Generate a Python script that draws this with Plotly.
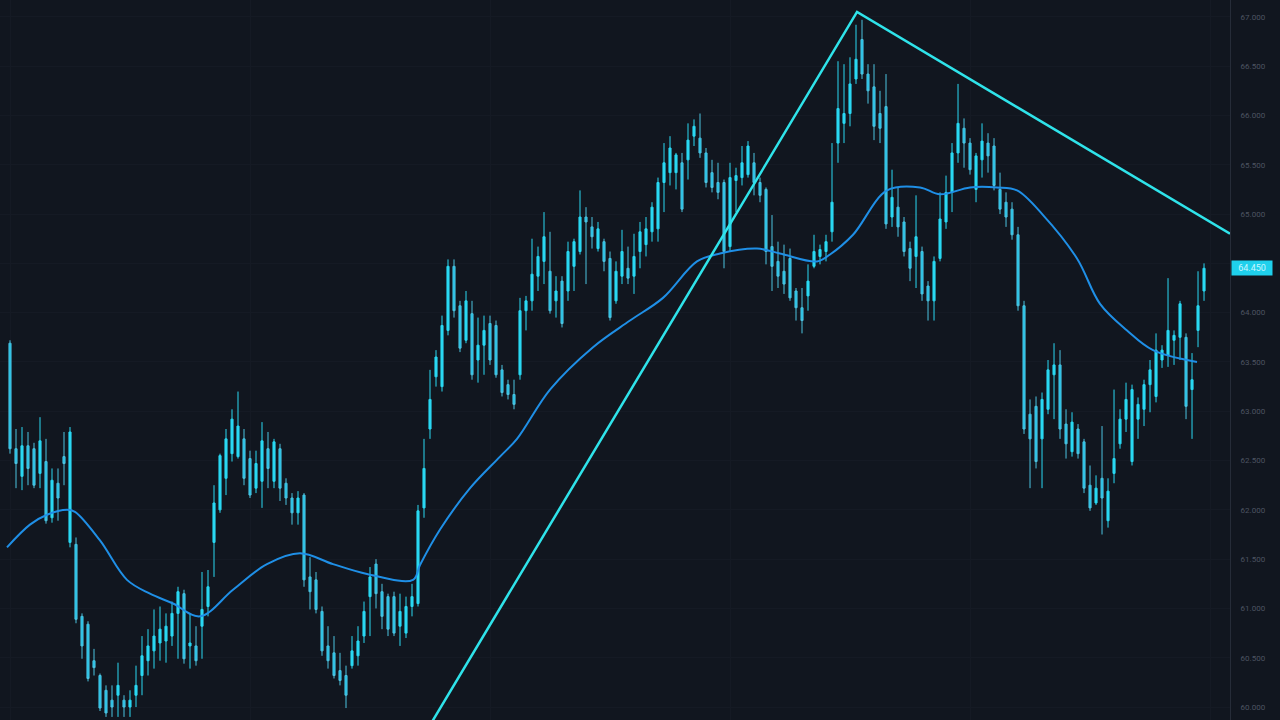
import plotly.graph_objects as go

# OHLC data (candle index 0..199)
opens = [63.69,62.62,62.34,62.65,62.62,62.37,62.49,61.92,62.27,62.54,
         61.67,61.65,60.92,60.84,60.47,60.32,60.17,60.07,60.12,60.07,
         60.00,60.12,60.32,60.47,60.57,60.65,60.67,60.72,60.95,61.15,
         60.62,60.62,60.82,61.02,61.67,62.00,62.32,62.57,62.54,62.72,
         62.52,62.22,62.29,62.62,62.29,62.62,62.27,62.12,61.97,62.15,
         61.32,61.29,60.97,60.62,60.55,60.37,60.32,60.42,60.52,60.72,
         61.12,61.45,61.17,61.12,61.12,60.82,60.75,61.02,61.05,62.02,
         62.82,63.35,63.25,63.82,64.47,64.07,63.72,63.99,63.52,63.67,
         63.89,63.87,63.42,63.27,63.17,63.37,64.02,64.12,64.37,64.52,
         64.42,64.12,64.32,64.22,64.47,64.62,64.97,64.87,64.65,64.72,
         64.55,64.12,64.37,64.45,64.37,64.62,64.69,64.82,64.85,65.32,
         65.42,65.42,65.52,65.55,65.79,65.77,65.62,65.42,65.32,65.32,
         64.67,65.34,65.37,65.40,65.52,65.32,65.25,64.67,64.52,64.42,
         64.55,64.22,64.05,64.17,64.47,64.57,64.62,64.82,65.72,65.92,
         66.02,66.37,66.77,66.42,66.29,66.02,66.09,64.97,65.07,64.92,
         64.65,64.57,64.62,64.27,64.12,64.55,64.92,65.22,65.62,65.87,
         65.72,65.25,65.55,65.72,65.69,65.25,65.12,65.05,64.79,64.07,
         62.97,63.05,62.72,63.02,63.37,63.47,62.87,62.59,62.82,62.69,
         62.25,62.07,62.32,61.89,62.37,62.67,62.92,62.49,62.92,63.02,
         63.27,63.15,63.52,63.57,63.72,63.75,63.75,63.22,63.82,64.22]
closes = [62.62,62.47,62.65,62.42,62.25,62.70,61.89,62.30,62.12,62.47,
          62.79,60.89,60.62,60.29,60.40,59.99,59.94,60.00,60.22,60.00,
          60.07,60.22,60.52,60.62,60.72,60.79,60.82,60.95,61.17,60.49,
          60.65,60.47,60.99,61.22,62.07,62.55,62.72,62.92,62.85,62.32,
          62.15,62.47,62.70,62.42,62.69,62.22,62.12,61.97,62.12,61.29,
          61.17,60.99,60.57,60.47,60.32,60.27,60.12,60.57,60.67,60.97,
          61.32,61.15,60.92,60.79,60.75,60.97,61.02,61.12,61.99,62.42,
          63.12,63.55,63.87,64.47,64.02,63.64,64.12,63.37,63.67,63.82,
          63.52,63.37,63.19,63.17,63.07,64.02,64.12,64.39,64.57,64.77,
          64.02,64.22,63.89,64.62,64.72,64.97,64.92,64.77,64.85,64.52,
          63.95,64.42,64.62,64.35,64.57,64.82,64.85,65.07,65.32,65.52,
          65.67,65.60,65.05,65.75,65.89,65.62,65.32,65.27,65.22,64.62,
          65.37,65.39,65.52,65.69,65.32,65.19,64.62,64.47,64.37,64.29,
          64.15,64.05,63.92,64.32,64.62,64.64,64.72,65.12,66.07,66.02,
          66.32,66.57,66.42,66.25,65.89,65.87,64.90,65.17,64.87,64.62,
          64.45,64.77,64.19,64.12,64.52,64.95,65.22,65.62,65.92,65.72,
          65.45,65.59,65.74,65.59,65.29,65.05,64.97,64.79,64.07,62.82,
          62.72,62.49,63.12,63.42,63.47,62.82,62.67,62.89,62.57,62.22,
          62.02,62.22,62.12,62.19,62.52,62.92,63.12,63.22,63.07,63.27,
          63.42,63.62,63.62,63.82,63.77,64.09,63.05,63.32,64.07,64.45]
highs = [63.72,62.82,62.84,62.79,62.68,62.94,62.72,62.42,62.42,62.79,
         62.84,61.72,60.95,60.87,60.59,60.34,60.22,60.22,60.45,60.12,
         60.17,60.42,60.72,60.79,60.99,61.02,60.95,61.07,61.22,61.19,
         60.95,60.82,61.37,61.39,62.25,62.57,62.82,63.02,63.20,62.82,
         62.60,62.60,62.89,62.79,62.72,62.67,62.32,62.17,62.19,62.17,
         61.52,61.37,61.02,60.82,60.72,60.55,60.42,60.72,60.82,61.07,
         61.42,61.50,61.25,61.15,61.17,61.15,61.12,61.25,62.05,62.72,
         63.42,63.62,63.97,64.54,64.54,64.12,64.22,64.12,63.95,63.97,
         63.97,63.92,63.47,63.32,63.32,64.15,64.17,64.75,64.67,65.02,
         64.82,64.37,64.37,64.72,64.75,65.24,65.07,64.97,64.92,64.75,
         64.62,64.52,64.84,64.67,64.80,64.92,64.97,65.12,65.37,65.72,
         65.79,65.62,65.62,65.92,65.96,66.02,65.67,65.55,65.52,65.35,
         65.52,65.47,65.69,65.74,65.62,65.37,65.27,64.99,64.72,64.69,
         64.65,64.25,64.25,64.49,64.79,64.69,64.79,65.72,66.55,66.52,
         66.59,66.92,66.97,66.52,66.52,66.25,66.42,65.45,65.27,64.97,
         64.72,65.19,64.67,64.32,64.57,65.22,65.39,65.72,66.32,65.97,
         65.77,65.62,65.92,65.82,65.77,65.42,65.22,65.12,64.87,64.12,
         63.12,63.15,63.19,63.52,63.69,63.62,63.02,62.99,62.87,62.72,
         62.45,62.35,62.85,62.32,63.22,63.02,63.29,63.27,63.14,63.32,
         63.52,63.79,63.67,64.35,63.82,64.12,63.79,63.59,64.42,64.50]
lows = [62.57,62.22,62.20,62.25,62.22,62.22,61.86,61.87,61.89,62.25,
        61.62,60.85,60.49,60.26,60.32,59.96,59.90,59.90,59.90,59.90,
        59.90,60.00,60.12,60.32,60.39,60.47,60.45,60.62,60.49,60.44,
        60.39,60.42,60.49,60.92,61.32,61.97,62.15,62.49,62.52,62.25,
        62.12,62.17,62.02,62.22,62.22,62.09,62.05,61.85,61.85,61.22,
        60.99,60.95,60.52,60.39,60.29,60.22,59.99,60.39,60.42,60.65,
        60.72,61.00,60.79,60.72,60.72,60.62,60.70,60.92,61.02,61.92,
        62.72,63.25,63.20,63.77,63.95,63.60,63.69,63.32,63.29,63.37,
        63.47,63.34,63.15,63.12,63.02,63.32,63.82,64.02,64.22,64.29,
        63.99,63.95,63.85,64.12,64.22,64.59,64.29,64.65,64.62,64.42,
        63.92,64.09,64.29,64.29,64.19,64.45,64.57,64.72,64.72,65.02,
        65.29,65.25,65.02,65.35,65.69,65.57,65.27,65.22,65.15,64.45,
        64.62,65.02,65.29,65.37,65.19,65.12,64.49,64.22,64.25,64.19,
        64.12,63.92,63.79,64.02,64.45,64.49,64.52,64.72,65.52,65.72,
        65.89,66.32,66.37,66.12,65.75,65.72,64.85,64.87,64.77,64.57,
        64.32,64.25,64.12,63.92,63.92,64.52,64.85,65.02,65.52,65.47,
        65.40,65.12,65.37,65.42,65.24,65.00,64.87,64.74,64.02,62.77,
        62.22,62.42,62.22,62.97,62.92,62.72,62.52,62.54,62.52,62.17,
        61.99,62.05,61.75,61.82,62.27,62.62,62.79,62.45,62.72,62.85,
        62.99,63.09,63.44,63.45,63.47,63.52,62.92,62.72,63.65,64.12]
idx = list(range(len(opens)))

# Moving-average line (candle index, price)
ma_x = [-0.5,3.33,6.17,9.5,10.83,15,19.5,23.33,27.17,31.67,37.17,42.83,48.33,53.83,
        59.5,67.17,68.33,71.67,76.67,81.67,84.5,90,97.17,103.33,108.83,114.5,118.33,
        124.5,128.33,134.5,136.67,140.5,146.17,151.67,155,160,164.5,167.83,172.17,
        177.83,181.67,186.17,190.5,197.83]
ma_y = [61.62,61.85,61.95,62.00,61.98,61.69,61.29,61.15,61.05,60.92,61.19,61.45,61.56,61.45,
        61.35,61.29,61.44,61.80,62.22,62.54,62.72,63.22,63.65,63.92,64.15,64.52,64.60,
        64.65,64.60,64.52,64.59,64.79,65.24,65.27,65.20,65.27,65.27,65.24,64.99,
        64.55,64.09,63.82,63.62,63.50]

# Zig-zag trend line
trend_x = [70.33, 141.17, 203.33]
trend_y = [59.85, 67.05, 64.80]

# Price axis ticks
tick_vals = [60.0 + 0.5 * k for k in range(15)]
tick_text = [f"{v:.3f}" for v in tick_vals]
last_price = closes[-1]

BG = "#11161f"
fig = go.Figure()
fig.add_trace(go.Candlestick(
    x=idx, open=opens, high=highs, low=lows, close=closes,
    increasing=dict(line=dict(color="#2ad8f2", width=1), fillcolor="#2ad8f2"),
    decreasing=dict(line=dict(color="#4cc3e0", width=1), fillcolor="#1fc3ea"),
    whiskerwidth=0, showlegend=False, hoverinfo="skip"))
fig.add_trace(go.Scatter(x=ma_x, y=ma_y, mode="lines",
                         line=dict(color="#1f8fe6", width=2, shape="spline", smoothing=1.0),
                         showlegend=False, hoverinfo="skip"))
fig.add_trace(go.Scatter(x=trend_x, y=trend_y, mode="lines",
                         line=dict(color="#2fe3ea", width=2.5),
                         showlegend=False, hoverinfo="skip"))

fig.add_annotation(x=1, xref="paper", xanchor="left", xshift=1,
                   y=last_price, yref="y", yanchor="middle",
                   text=f"{last_price:.3f}", showarrow=False,
                   bgcolor="#1fd0ec", font=dict(color="#c8f6ff", size=9, family="Roboto"),
                   width=38, height=12, borderpad=1)

y_top = 67.171
y_bot = y_top - 720 / 98.6
fig.update_layout(
    width=1280, height=720,
    margin=dict(l=0, r=50, t=0, b=0),
    paper_bgcolor=BG, plot_bgcolor=BG,
    boxgap=0.5,
    font=dict(family="Roboto", color="#4d5461", size=8),
    xaxis=dict(range=[-1.667, 203.33], rangeslider=dict(visible=False),
               showticklabels=False, showgrid=True, gridcolor="#151a24",
               dtick=40, zeroline=False, showline=False, ticks=""),
    yaxis=dict(range=[y_bot, y_top], side="right", tickvals=tick_vals, ticktext=tick_text,
               showgrid=True, gridcolor="#151a24", zeroline=False,
               showline=True, linecolor="#262c38", linewidth=1,
               ticks="", ticklabelstandoff=8, tickfont=dict(size=8, color="#4d5461")),
)

fig.write_html("out.html", config={"displayModeBar": False},
               post_script="document.body.style.margin='0';document.body.style.background='" + BG + "';")
